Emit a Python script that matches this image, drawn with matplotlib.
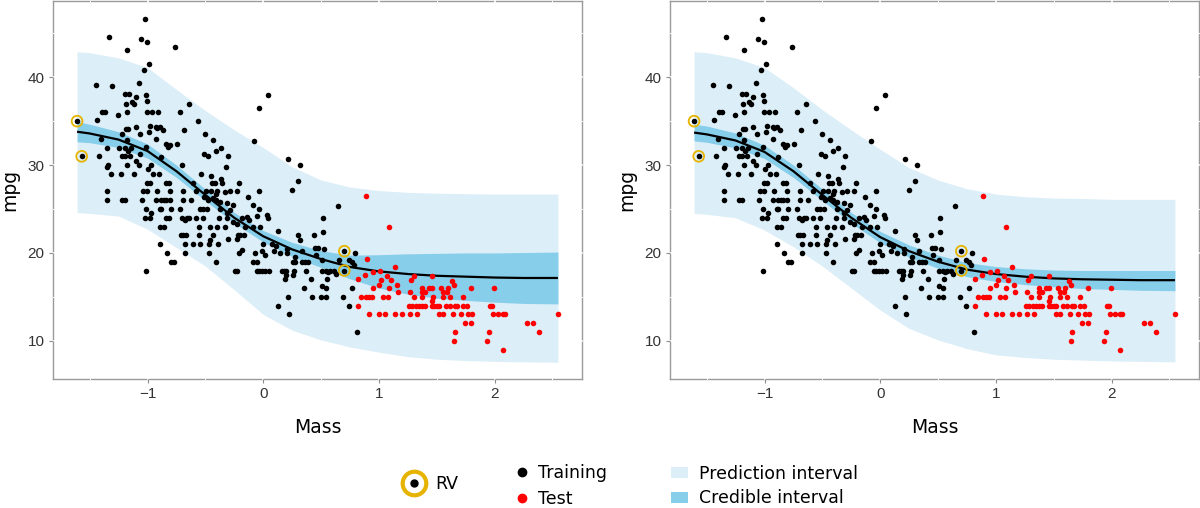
import matplotlib
matplotlib.use("Agg")
import matplotlib.pyplot as plt
from matplotlib.lines import Line2D
from matplotlib.patches import Patch
from matplotlib.ticker import FixedLocator

# ---------------- data ----------------
# training points (standardised mass, mpg)
train_x = [
    -1.024, -1.332, -1.058, -1.004, -0.761, -1.174, -0.986, -1.027, -1.076, -1.445,
    -1.303, -1.194, -1.162, -1.009, -1.096, -1.182, -0.643, -1.133, -1.119, -1.004,
    -1.393, -1.364, -1.257, -1.179, -1.006, -0.963, -0.911, -0.718, -1.436, -0.565,
    -0.980, -0.931, -0.917, -0.894, -1.102, -0.865, -0.689, -1.182, -1.168, -1.223,
    -1.067, -0.502, -0.986, -0.430, -1.399, -0.928, -1.174, -0.837, -0.822, -0.810,
    -0.744, -1.012, -1.347, -1.246, -1.194, -1.142, -0.369, -1.171, -0.404, -0.513,
    -1.064, -0.479, -1.422, -1.217, -1.194, -1.153, -0.306, -0.885, -1.352, -0.323,
    -1.338, -1.174, -1.076, -0.972, -0.706, -1.099, -1.312, -1.228, -1.113, -0.952,
    -0.900, -0.536, -0.995, -0.453, -0.363,
    -1.004, -0.981, -0.842, -0.813, -0.605, -0.447, -0.418, -0.360, -0.210,
    -1.350, -1.038, -1.004, -0.917, -0.802, -0.692, -0.577, -0.496, -0.453, -0.398,
    -0.288, -0.225, -0.410, -0.332, -0.130,
    -1.350, -1.217, -1.197, -1.044, -0.929, -0.880, -0.859, -0.842, -0.802, -0.692,
    -0.620, -0.476, -0.404, -0.513, -0.438, -0.375, -0.311, -0.265,
    -1.009, -0.894, -0.880, -0.799, -0.721, -0.548, -0.519, -0.484, -0.375,
    -0.317, -0.288, -0.138, -0.121, -0.966,
    -1.024, -0.975, -0.842, -0.813, -0.698, -0.658, -0.640, -0.583, -0.519, -0.381,
    -0.317, -0.187, -0.678, -0.260, -0.225,
    -0.888, -0.859, -0.554, -0.456, -0.398, -0.332, -0.159,
    -0.707, -0.692, -0.669, -0.554, -0.438, -0.216, -0.202, -0.167, -0.303,
    -0.888, -0.678, -0.611, -0.548, -0.467, -0.389, -0.461, -0.225,
    -0.831, -0.678, -0.467, -0.208, -0.187,
    -0.793, -0.770, -0.404,
    -1.009, -0.245, -0.225,
    0.044, -0.034, -0.080, 0.217, 0.318, 0.297, 0.248, -0.034, -0.092, 0.649,
    -0.040, 0.029, 0.038, -0.057, 0.519, -0.086, -0.028, 0.127, 0.300, 0.318,
    0.439, 0.514, 0.000, 0.072, 0.110, -0.075, -0.011, 0.015, 0.095, 0.144,
    0.202, 0.208, 0.274, 0.274, 0.338, 0.447, 0.476, 0.456, 0.525, 0.655,
    0.738, 0.764, 0.785, 0.796, -0.092, -0.057, 0.254, 0.332, 0.361, 0.384,
    0.505,
    -0.057, -0.034, -0.011, 0.012, 0.049, 0.162, 0.182, 0.196, 0.268, 0.367,
    0.511, 0.542, 0.577, 0.612, 0.563, 0.632,
    0.196, 0.254, 0.191, 0.413, 0.554, 0.355, 0.542, 0.770, 0.505,
    0.211, 0.421, 0.496, 0.540, 0.690, 0.127, 0.744, 0.225, 0.808,
]
train_y = [
    46.6, 44.6, 44.3, 44.0, 43.4, 43.1, 41.5, 40.8, 39.4, 39.1,
    39.0, 38.1, 38.1, 38.0, 37.7, 37.0, 37.0, 37.2, 36.9, 37.3,
    36.1, 36.0, 35.7, 36.0, 36.0, 36.0, 36.0, 36.0, 35.1, 35.0,
    34.5, 34.3, 34.2, 34.3, 34.3, 34.0, 34.0, 34.1, 34.1, 33.5,
    33.5, 33.5, 33.8, 32.9, 33.0, 33.0, 32.8, 32.4, 32.1, 32.3,
    32.4, 32.1, 32.0, 31.9, 31.9, 31.9, 31.9, 31.6, 31.6, 31.3,
    31.3, 31.0, 31.0, 31.0, 31.0, 31.0, 31.0, 30.9, 29.8, 29.8,
    30.0, 30.0, 30.0, 30.0, 30.0, 30.5, 29.0, 29.0, 29.0, 29.0,
    29.0, 29.0, 29.6, 28.8, 28.4,
    28.0, 28.0, 28.0, 28.0, 28.0, 28.0, 28.0, 28.0, 28.0,
    27.0, 27.0, 27.0, 27.0, 27.0, 27.0, 27.0, 27.0, 27.0, 27.0,
    27.0, 27.0, 26.7, 26.9, 26.4,
    26.0, 26.0, 26.0, 26.0, 26.0, 26.0, 26.0, 26.0, 26.0, 26.0,
    26.0, 26.0, 26.0, 26.4, 26.3, 25.8, 25.7, 25.5,
    25.0, 25.0, 25.0, 25.0, 25.0, 25.0, 25.0, 25.0, 25.0,
    24.5, 24.9, 24.1, 23.8, 24.5,
    24.0, 24.0, 24.0, 24.0, 24.0, 24.0, 24.0, 24.0, 24.0, 24.0,
    24.0, 24.0, 23.8, 23.5, 23.3,
    23.0, 23.0, 23.0, 23.0, 23.0, 23.0, 23.0,
    22.0, 22.0, 22.0, 22.0, 22.0, 22.0, 22.0, 22.0, 21.6,
    21.0, 21.0, 21.0, 21.0, 21.0, 21.0, 21.5, 21.6,
    20.0, 20.0, 20.0, 20.0, 20.3,
    19.0, 19.0, 19.0,
    18.0, 18.0, 18.0,
    38.0, 36.5, 32.7, 30.7, 30.0, 28.2, 27.2, 27.0, 25.5, 25.4,
    25.0, 24.3, 24.0, 24.2, 24.0, 23.0, 23.0, 22.5, 22.0, 21.5,
    22.0, 22.4, 21.0, 21.0, 20.8, 20.0, 20.2, 19.8, 20.2, 20.0,
    20.5, 20.0, 19.5, 19.0, 20.2, 20.6, 20.6, 19.8, 20.5, 19.2,
    19.2, 19.0, 18.6, 20.0, 19.0, 19.0, 19.0, 19.0, 19.0, 19.0,
    19.2,
    18.0, 18.0, 18.0, 18.0, 18.0, 18.0, 18.0, 18.0, 18.0, 18.0,
    18.0, 18.0, 18.0, 18.0, 17.8, 17.6,
    17.5, 17.5, 17.0, 17.0, 17.0, 16.0, 16.0, 16.0, 16.2,
    15.0, 15.0, 15.0, 15.0, 15.0, 14.0, 14.0, 13.0, 11.0,
]

# test points
test_x = [
    0.885, 1.090, 0.894, 1.136, 1.009, 0.952, 0.879, 1.067, 1.306, 1.462,
    0.822, 1.018, 1.101, 1.277, 1.632, 1.652, 1.000, 1.156,
    0.946, 1.090, 1.370, 1.433, 1.462, 1.537, 1.600, 1.794, 1.998,
    1.162, 1.269, 1.370, 1.402, 1.557, 1.592,
    0.842, 0.886, 0.914, 0.943, 1.032, 1.081, 1.306, 1.370, 1.471, 1.557, 1.615, 1.730,
    1.462,
    0.822, 1.260, 1.290, 1.318, 1.346, 1.375, 1.398, 1.456, 1.476, 1.499,
    1.522, 1.580, 1.615, 1.658, 1.673, 1.725, 1.759, 1.961, 1.981,
    0.917, 0.998, 1.052, 1.139, 1.197, 1.269, 1.326, 1.522, 1.551, 1.638,
    1.707, 1.773, 1.802, 1.984, 2.033, 2.076, 2.091, 2.547,
    1.745, 1.794, 2.278, 2.330,
    1.658, 1.952, 2.385,
    1.652, 1.932,
    2.076,
]
test_y = [
    26.5, 23.0, 19.3, 18.4, 18.0, 17.8, 17.5, 17.4, 17.4, 17.4,
    17.0, 16.9, 16.9, 16.9, 16.8, 16.3, 16.4, 16.4,
    16.0, 16.0, 16.0, 16.0, 16.0, 16.0, 16.0, 16.0, 16.0,
    15.5, 15.5, 15.5, 15.5, 15.5, 15.5,
    15.0, 15.0, 15.0, 15.0, 15.0, 15.0, 15.0, 15.0, 15.0, 15.0, 15.0, 15.0,
    14.5,
    14.0, 14.0, 14.0, 14.0, 14.0, 14.0, 14.0, 14.0, 14.0, 14.0,
    14.0, 14.0, 14.0, 14.0, 14.0, 14.0, 14.0, 14.0, 14.0,
    13.0, 13.0, 13.0, 13.0, 13.0, 13.0, 13.0, 13.0, 13.0, 13.0,
    13.0, 13.0, 13.0, 13.0, 13.0, 13.0, 13.0, 13.0,
    12.0, 12.0, 12.0, 12.0,
    11.0, 11.0, 11.0,
    10.0, 10.0,
    9.0,
]

# representative values (RV)
rv_x = [-1.609, -1.569, 0.701, 0.701]
rv_y = [35.0, 31.0, 20.2, 18.0]

# fitted curves, read along the mass axis
curve_x = [-1.609, -1.5, -1.25, -1.0, -0.75, -0.5, -0.25, 0.0, 0.25, 0.5,
           0.75, 1.0, 1.25, 1.5, 1.75, 2.0, 2.25, 2.547]

# left model
left_mean = [33.8, 33.6, 32.9, 31.6, 29.3, 26.6, 24.0, 21.9, 20.4, 19.3,
             18.4, 17.9, 17.6, 17.4, 17.3, 17.2, 17.15, 17.15]
left_pi_hi = [42.9, 42.8, 42.2, 41.1, 38.6, 36.2, 34.0, 32.0, 29.8, 28.3,
              27.5, 27.1, 26.9, 26.8, 26.75, 26.7, 26.7, 26.7]
left_pi_lo = [24.6, 24.5, 24.2, 22.7, 20.6, 18.5, 15.8, 13.0, 11.2, 10.1,
              9.3, 8.7, 8.2, 7.9, 7.75, 7.65, 7.6, 7.55]
left_ci_hi = [34.95, 34.65, 33.8, 32.4, 30.0, 27.25, 24.6, 22.55, 21.2, 20.25,
              19.75, 19.8, 19.9, 19.95, 20.0, 20.0, 20.05, 20.1]
left_ci_lo = [32.65, 32.55, 32.0, 30.8, 28.6, 25.95, 23.4, 21.25, 19.6, 18.35,
              17.05, 16.0, 15.3, 14.85, 14.6, 14.4, 14.25, 14.2]

# right model
right_mean = [33.7, 33.5, 32.8, 31.5, 29.3, 26.6, 24.0, 21.8, 20.2, 19.0,
              18.1, 17.6, 17.3, 17.1, 17.0, 16.95, 16.9, 16.9]
right_pi_hi = [42.9, 42.8, 42.2, 41.1, 38.8, 36.3, 34.0, 31.8, 29.7, 28.3,
               27.3, 26.7, 26.4, 26.25, 26.2, 26.1, 26.1, 26.1]
right_pi_lo = [24.5, 24.4, 24.0, 22.6, 20.7, 18.5, 16.0, 13.5, 11.4, 10.1,
               9.1, 8.4, 8.1, 7.9, 7.8, 7.7, 7.65, 7.6]
right_ci_hi = [34.65, 34.45, 33.65, 32.25, 30.0, 27.25, 24.6, 22.45, 20.9, 19.75,
               18.9, 18.45, 18.2, 18.05, 18.0, 18.0, 18.0, 18.0]
right_ci_lo = [32.75, 32.6, 31.95, 30.75, 28.6, 25.95, 23.4, 21.15, 19.5, 18.25,
               17.3, 16.75, 16.4, 16.15, 15.95, 15.85, 15.75, 15.7]

x_ticks = [-1, 0, 1, 2]
y_ticks = [10, 20, 30, 40]

# ---------------- style ----------------
PI_COL = "#DCEEF8"
CI_COL = "#87CEEB"
RING_COL = "#E6B400"
TICK_FONT = "Liberation Sans"
TEXT_FONT = "DejaVu Sans"

fig = plt.figure(figsize=(12, 5.08), dpi=100)
W, H = 1200.0, 508.0
ax_left = fig.add_axes([53 / W, 1 - 379 / H, 529 / W, 378 / H])
ax_right = fig.add_axes([670 / W, 1 - 379 / H, 529 / W, 378 / H])


def draw_panel(ax, mean, pi_hi, pi_lo, ci_hi, ci_lo):
    ax.fill_between(curve_x, pi_lo, pi_hi, color=PI_COL, lw=0, zorder=1)
    ax.fill_between(curve_x, ci_lo, ci_hi, color=CI_COL, lw=0, zorder=1.2)
    ax.plot(curve_x, mean, color="black", lw=1.6, zorder=2,
            solid_capstyle="butt")
    ax.scatter(train_x, train_y, s=16, color="black", lw=0, zorder=3)
    ax.scatter(test_x, test_y, s=16, color="red", lw=0, zorder=3)
    ax.scatter(rv_x, rv_y, s=16, color="black", lw=0, zorder=3)
    ax.scatter(rv_x, rv_y, s=60, facecolors="none", edgecolors=RING_COL,
               linewidths=1.3, zorder=4)

    ax.set_xlim(-1.817, 2.755)
    ax.set_ylim(5.65, 48.68)
    ax.xaxis.set_major_locator(FixedLocator(x_ticks))
    ax.yaxis.set_major_locator(FixedLocator(y_ticks))
    ax.xaxis.set_minor_locator(FixedLocator([-1.5, -0.5, 0.5, 1.5, 2.5]))
    ax.yaxis.set_minor_locator(FixedLocator([15, 25, 35, 45]))
    ax.set_xticklabels(["\u22121", "0", "1", "2"])
    ax.set_yticklabels([str(v) for v in y_ticks])
    ax.tick_params(which="major", length=3, width=0.8, color="#8c8c8c",
                   labelsize=11, labelcolor="#333333", pad=3)
    ax.tick_params(which="minor", length=0)
    for lab in ax.get_xticklabels() + ax.get_yticklabels():
        lab.set_fontfamily(TICK_FONT)

    ax.set_axisbelow(True)
    ax.grid(which="major", color="white", lw=1.2)
    ax.grid(which="minor", color="white", lw=0.7)
    for t in ax.xaxis.get_major_ticks() + ax.yaxis.get_major_ticks() + \
            ax.xaxis.get_minor_ticks() + ax.yaxis.get_minor_ticks():
        t.gridline.set_clip_on(False)
    for sp in ax.spines.values():
        sp.set_color("#9a9a9a")
        sp.set_linewidth(1.0)
        sp.set_zorder(0.2)

    ax.set_xlabel("Mass", fontsize=13.5, fontfamily=TEXT_FONT, labelpad=12)
    ax.set_ylabel("mpg", fontsize=13.5, fontfamily=TEXT_FONT, labelpad=6)


draw_panel(ax_left, left_mean, left_pi_hi, left_pi_lo, left_ci_hi, left_ci_lo)
draw_panel(ax_right, right_mean, right_pi_hi, right_pi_lo, right_ci_hi, right_ci_lo)

# ---------------- legends ----------------
leg_font = {"family": TEXT_FONT, "size": 12.5}

ring = Line2D([], [], ls="none", marker="o", ms=17, mfc="none",
              mec=RING_COL, mew=3)
dot = Line2D([], [], ls="none", marker="o", ms=5, color="black")
fig.legend([(ring, dot)], ["RV"], loc="center left",
           bbox_to_anchor=(401 / W, 1 - 484 / H), frameon=False, prop=leg_font,
           handlelength=1.5, handletextpad=0.5, borderpad=0, borderaxespad=0)

h_train = Line2D([], [], ls="none", marker="o", ms=6, color="black")
h_test = Line2D([], [], ls="none", marker="o", ms=6, color="red")
fig.legend([h_train, h_test], ["Training", "Test"], loc="center left",
           bbox_to_anchor=(513 / W, 1 - 486 / H), frameon=False, prop=leg_font,
           handlelength=1.0, handletextpad=0.45, labelspacing=0.5,
           borderpad=0, borderaxespad=0)

h_pi = Patch(facecolor=PI_COL, edgecolor="none")
h_ci = Patch(facecolor=CI_COL, edgecolor="none")
fig.legend([h_pi, h_ci], ["Prediction interval", "Credible interval"],
           loc="center left", bbox_to_anchor=(671 / W, 1 - 486 / H),
           frameon=False, prop=leg_font, handlelength=1.0, handleheight=0.6,
           handletextpad=0.6, labelspacing=0.4, borderpad=0, borderaxespad=0)

fig.savefig("out.png", dpi=100)
